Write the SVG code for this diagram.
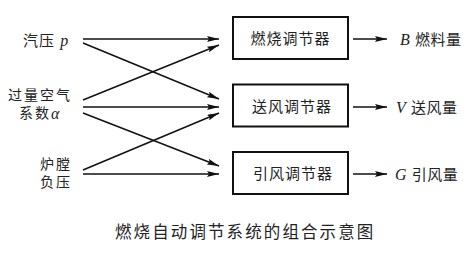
<svg xmlns="http://www.w3.org/2000/svg" width="474" height="257" viewBox="0 0 474 257">
<style>
text{font-family:"Liberation Sans","Noto Sans CJK SC","Noto Sans CJK TC",sans-serif;font-size:15px;fill:#222;dominant-baseline:central}
.lbl{font-size:14px;letter-spacing:2px}
.v{font-family:"Liberation Serif",serif;font-style:italic;font-size:16px}
.box{fill:#fff;stroke:#111;stroke-width:2}
.ln{stroke:#111;stroke-width:1.5;fill:none;marker-end:url(#ah)}
</style>
<defs>
<marker id="ah" viewBox="0 0 12 6" refX="12" refY="3" markerWidth="12" markerHeight="6" markerUnits="userSpaceOnUse" orient="auto">
<path d="M0,0 L12,3 L0,6 L2,3 Z" fill="#111"/>
</marker>
</defs>
<g id="in-p"><text x="23" y="40" letter-spacing="1">汽压 <tspan class="v">p</tspan></text></g>
<g id="in-a"><text class="lbl" x="8" y="95">过量空气</text><text class="lbl" x="19" y="113">系数<tspan class="v">α</tspan></text></g>
<g id="in-f"><text class="lbl" x="40" y="164">炉膛</text><text class="lbl" x="40" y="182">负压</text></g>
<g id="ctl-b"><rect class="box" x="233" y="17" width="115" height="42"/><text x="290.5" y="38" text-anchor="middle" letter-spacing="1">燃烧调节器</text></g>
<g id="ctl-v"><rect class="box" x="233" y="84.5" width="115" height="42"/><text x="292" y="106" text-anchor="middle" letter-spacing="1">送风调节器</text></g>
<g id="ctl-g"><rect class="box" x="233" y="152" width="115" height="42"/><text x="293" y="173" text-anchor="middle" letter-spacing="1">引风调节器</text></g>
<g id="out-b"><text x="400" y="39" letter-spacing="0.5"><tspan class="v">B</tspan> 燃料量</text></g>
<g id="out-v"><text x="396" y="107" letter-spacing="0.5"><tspan class="v">V</tspan> 送风量</text></g>
<g id="out-g"><text x="395" y="174" letter-spacing="0.5"><tspan class="v">G</tspan> 引风量</text></g>
<g id="connectors">
<line class="ln" x1="83" y1="39" x2="219" y2="39"/>
<line class="ln" x1="83" y1="43" x2="219" y2="99"/>
<line class="ln" x1="83" y1="100" x2="219" y2="45"/>
<line class="ln" x1="83" y1="107" x2="219" y2="107"/>
<line class="ln" x1="83" y1="113" x2="219" y2="166"/>
<line class="ln" x1="83" y1="170" x2="219" y2="113"/>
<line class="ln" x1="83" y1="174" x2="219" y2="174"/>
<line class="ln" x1="353" y1="39" x2="387" y2="39"/>
<line class="ln" x1="353" y1="107" x2="387" y2="107"/>
<line class="ln" x1="353" y1="174" x2="387" y2="174"/>
</g>
<text x="115" y="232" letter-spacing="2.1" style="font-size:16.5px">燃烧自动调节系统的组合示意图</text>
</svg>
